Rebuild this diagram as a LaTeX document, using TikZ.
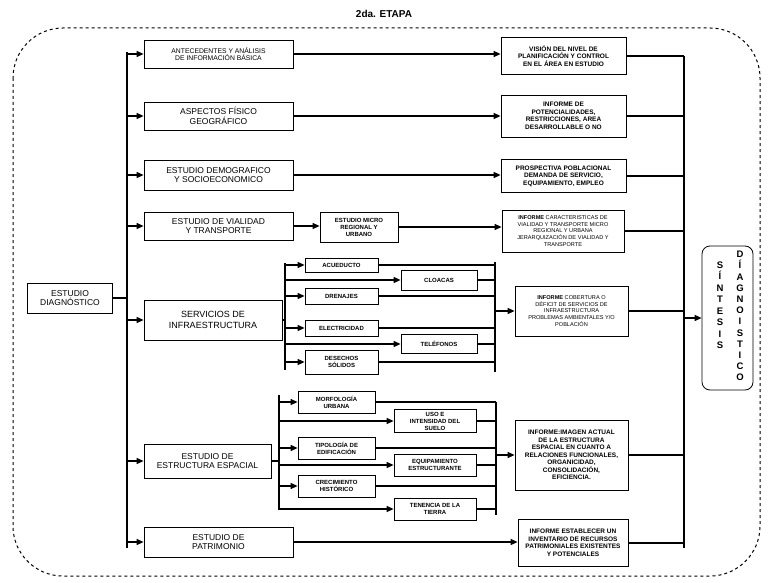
\documentclass[tikz,border=0pt]{standalone}
\usepackage{fontspec}
\setmainfont{Liberation Sans}
\usetikzlibrary{arrows.meta}
\begin{document}
\begin{tikzpicture}[x=1pt,y=-1pt,
  bx/.style={draw,line width=0.8pt,fill=white,align=center,inner sep=1pt,font=\fontsize{8.5}{9.5}\selectfont},
  sb/.style={draw,line width=0.8pt,fill=white,align=center,inner sep=1pt,font=\fontsize{6}{7}\selectfont\bfseries,minimum width=76pt},
  rb/.style={draw,line width=0.8pt,fill=white,align=center,inner sep=1pt,font=\fontsize{6.5}{7.5}\selectfont\bfseries},
  ln/.style={line width=1.2pt},
  arr/.style={line width=1.2pt,-{Triangle[length=7pt,width=6pt]}}]
\useasboundingbox (0,0) rectangle (768,583);
\node[font=\bfseries\fontsize{10}{12}\selectfont] (title) at (384,14) {2da. ETAPA};
\draw[dashed,line width=1pt,rounded corners=50pt] (13,28) rectangle (760,576);

\node[bx,minimum width=85pt,minimum height=30pt] (diag) at (70,298) {ESTUDIO\\DIAGNÓSTICO};
\coordinate (tt) at (127,52);
\coordinate (tb) at (127,548);
\draw[ln] (tt) -- (tb);
\draw[ln] (diag.east) -- (diag.east -| tt);

% left boxes
\node[bx,minimum width=149pt,minimum height=28pt,font=\fontsize{6.8}{7.8}\selectfont] (l1) at (218.5,54) {ANTECEDENTES Y ANÁLISIS\\DE INFORMACIÓN BÁSICA};
\node[bx,minimum width=149pt,minimum height=28pt] (l2) at (218.5,116) {ASPECTOS FÍSICO\\GEOGRÁFICO};
\node[bx,minimum width=149pt,minimum height=30pt] (l3) at (218.5,175) {ESTUDIO DEMOGRAFICO\\Y SOCIOECONOMICO};
\node[bx,minimum width=149pt,minimum height=28pt] (l4) at (218.5,226) {ESTUDIO DE VIALIDAD\\Y TRANSPORTE};
\node[bx,minimum width=138pt,minimum height=40pt,font=\fontsize{9}{10.5}\selectfont] (l5) at (213,320) {SERVICIOS DE\\INFRAESTRUCTURA};
\node[bx,minimum width=127pt,minimum height=34pt] (l6) at (207.5,461) {ESTUDIO DE\\ESTRUCTURA ESPACIAL};
\node[bx,minimum width=149pt,minimum height=30pt] (l7) at (218.5,542) {ESTUDIO DE\\PATRIMONIO};
\foreach \n in {l1,l2,l3,l4,l5,l6,l7} \draw[arr] (\n.west -| tt) -- (\n.west);

% right boxes
\node[rb,minimum width=125pt,minimum height=37pt] (r1) at (563.5,56) {VISIÓN DEL NIVEL DE\\PLANIFICACIÓN Y CONTROL\\EN EL ÁREA EN ESTUDIO};
\node[rb,minimum width=125pt,minimum height=42pt] (r2) at (563.5,116) {INFORME DE\\POTENCIALIDADES,\\RESTRICCIONES, AREA\\DESARROLLABLE O NO};
\node[rb,minimum width=125pt,minimum height=33pt] (r3) at (563.5,176) {PROSPECTIVA POBLACIONAL\\DEMANDA DE SERVICIO,\\EQUIPAMIENTO, EMPLEO};
\node[rb,minimum width=122pt,minimum height=42pt,font=\fontsize{5.6}{6.6}\selectfont] (r4) at (563,231) {\textbf{INFORME} CARACTERISTICAS DE\\VIALIDAD Y TRANSPORTE  MICRO\\REGIONAL Y URBANA\\JERARQUIZACIÓN DE VIALIDAD Y\\TRANSPORTE};
\node[rb,minimum width=113pt,minimum height=50pt,font=\fontsize{5.6}{6.8}\selectfont] (r5) at (571.5,311) {\textbf{INFORME} COBERTURA O\\DÉFICIT DE SERVICIOS DE\\INFRAESTRUCTURA\\PROBLEMAS AMBIENTALES Y/O\\POBLACIÓN};
\node[rb,minimum width=113pt,minimum height=70pt] (r6) at (571.5,455) {INFORME:IMAGEN ACTUAL\\DE LA ESTRUCTURA\\ESPACIAL EN CUANTO A\\RELACIONES FUNCIONALES,\\ORGANICIDAD,\\CONSOLIDACIÓN,\\EFICIENCIA.};
\node[rb,minimum width=110pt,minimum height=47pt] (r7) at (573,543) {INFORME ESTABLECER UN\\INVENTARIO DE RECURSOS\\PATRIMONIALES EXISTENTES\\Y POTENCIALES};

\draw[arr] (l1) -- (r1.west |- l1);
\draw[arr] (l2) -- (r2);
\draw[arr] (l3) -- (r3.west |- l3);
\draw[arr] (l7) -- (r7.west |- l7);
\node[sb,minimum width=78pt,minimum height=30pt] (micro) at (359,227) {ESTUDIO MICRO\\REGIONAL Y\\URBANO};
\draw[arr] (l4) -- (micro.west |- l4);
\draw[arr] (micro.east) -- (r4.west |- micro.east);

% right collector
\coordinate (ct) at (684,56);
\coordinate (cb) at (684,548);
\draw[ln] (ct) -- (cb);
\foreach \n in {r1,r2,r3,r4,r5,r6,r7} \draw[ln] (\n.east) -- (\n.east -| ct);
\node[draw,line width=0.8pt,rounded corners=8pt,minimum width=51pt,minimum height=144pt] (sin) at (727.5,318) {};
\node[font=\bfseries\fontsize{9.5}{11.5}\selectfont,align=center] (s1) at (720,305) {S\\Í\\N\\T\\E\\S\\I\\S};
\node[font=\bfseries\fontsize{9.5}{11.2}\selectfont,align=center] (s2) at (740,316) {D\\Í\\A\\G\\N\\O\\I\\S\\T\\I\\C\\O};
\draw[arr] (sin.west -| ct) -- (sin.west);

% servicios
\coordinate (st) at (285,263);
\coordinate (sbt) at (285,370);
\draw[ln] (st) -- (sbt);
\draw[ln] (l5.east) -- (l5.east -| st);
\node[sb,minimum width=73pt,minimum height=14pt] (acu) at (341.5,265) {ACUEDUCTO};
\node[sb,minimum height=20pt] (clo) at (439,280) {CLOACAS};
\node[sb,minimum width=73pt,minimum height=16pt] (dre) at (341.5,296) {DRENAJES};
\node[sb,minimum width=73pt,minimum height=16pt] (ele) at (341.5,328) {ELECTRICIDAD};
\node[sb,minimum height=19pt] (tel) at (439,344) {TELÉFONOS};
\node[sb,minimum width=73pt,minimum height=24pt] (des) at (341.5,362) {DESECHOS\\SÓLIDOS};
\coordinate (sc) at (495,262);
\draw[ln] (sc) -- (495,372) coordinate (scb);
\foreach \n in {acu,clo,dre,ele,tel,des} {\draw[arr] (\n.west -| st) -- (\n.west); \draw[ln] (\n.east) -- (\n.east -| sc);}
\draw[arr] (r5.west -| sc) -- (r5.west);

% estructura
\coordinate (et) at (279,395);
\draw[ln] (et) -- (279,510) coordinate (eb);
\draw[ln] (l6.east) -- (l6.east -| et);
\node[sb,minimum width=77pt,minimum height=22pt] (mor) at (336.5,402) {MORFOLOGÍA\\URBANA};
\node[sb,minimum width=82pt,minimum height=23pt] (uso) at (435,421) {USO E\\INTENSIDAD DEL\\SUELO};
\node[sb,minimum width=77pt,minimum height=22pt] (tip) at (336.5,448) {TIPOLOGÍA DE\\EDIFICACIÓN};
\node[sb,minimum width=82pt,minimum height=22pt] (equ) at (435,465) {EQUIPAMIENTO\\ESTRUCTURANTE};
\node[sb,minimum width=77pt,minimum height=22pt] (cre) at (336.5,486) {CRECIMIENTO\\HISTÓRICO};
\node[sb,minimum width=82pt,minimum height=22pt] (ten) at (435,509) {TENENCIA DE LA\\TIERRA};
\coordinate (ec) at (496,402);
\draw[ln] (ec) -- (496,515) coordinate (ecb);
\foreach \n in {mor,uso,tip,equ,cre,ten} {\draw[arr] (\n.west -| et) -- (\n.west); \draw[ln] (\n.east) -- (\n.east -| ec);}
\draw[arr] (r6.west -| ec) -- (r6.west);
\end{tikzpicture}
\end{document}
